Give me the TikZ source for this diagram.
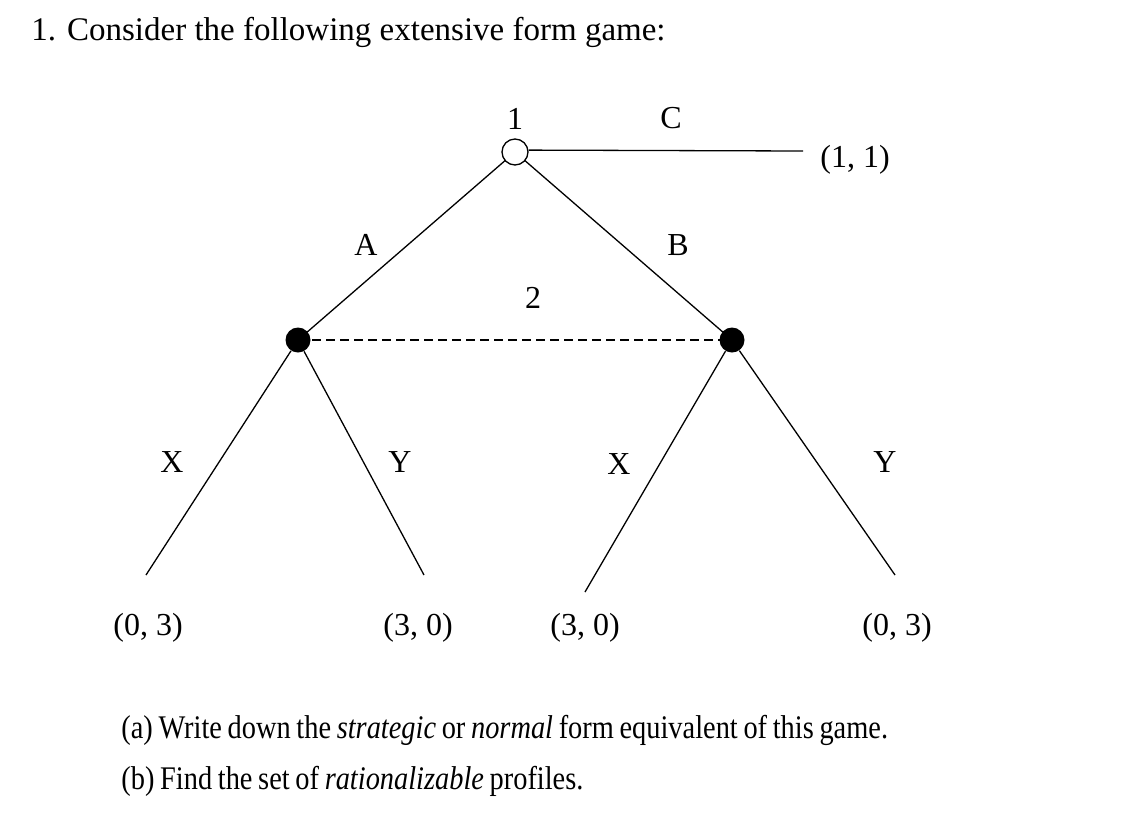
\documentclass[tikz,border=0pt]{standalone}
\usepackage{fontspec}
\setmainfont{Liberation Serif}
\newfontfamily\narrowserif[FakeStretch=0.86, WordSpace={0.8,0,0}]{Liberation Serif}
\begin{document}
\begin{tikzpicture}[x=0.5pt,y=-0.5pt,
  every node/.style={font=\fontsize{16}{19}\selectfont, inner sep=0pt},
  opennode/.style={circle, draw, fill=white, minimum size=13pt, line width=0.65pt},
  solidnode/.style={circle, fill=black, minimum size=12.5pt},
  branch/.style={line width=0.65pt},
  infoset/.style={line width=0.65pt, dash pattern=on 4.5pt off 2.5pt},
  txt/.style={anchor=base west, font=\fontsize{16.5}{20}\selectfont},
  qtxt/.style={anchor=base west, font=\narrowserif\fontsize{16.5}{20}\selectfont}]
\useasboundingbox (0,0) rectangle (1126,836);
\fill[white] (0,0) rectangle (1126,836);

\node[txt] (title) at (31,40) {1. Consider the following extensive form game:};

% nodes
\coordinate (cend) at (803,151);
\coordinate (l1) at (146,575);
\coordinate (l2) at (424,575);
\coordinate (l3) at (585,592);
\coordinate (l4) at (895,575);
\node[solidnode] (n2) at (298,340) {};
\node[solidnode] (n3) at (732,340) {};

\draw[infoset] (n2.center) -- (n3.center);
\draw[branch] (515,152) -- (n2.center);
\draw[branch] (515,152) -- (n3.center);
\node[opennode] (root) at (515,152) {};
\draw[branch] (root.8) -- (cend);
\draw[branch] (n2) -- (l1);
\draw[branch] (n2) -- (l2);
\draw[branch] (n3) -- (l3);
\draw[branch] (n3) -- (l4);

% labels
\node (p1) at (515,119) {1};
\node (lc) at (671,118) {C};
\node (pc) at (855,160) {(1, 1)};
\node (la) at (366,245) {A};
\node (lb) at (678,245) {B};
\node (p2) at (533,298) {2};
\node (lx1) at (172,462) {X};
\node (ly1) at (400,462) {Y};
\node (lx2) at (619,464) {X};
\node (ly2) at (885,462) {Y};
\node (o1) at (148,628) {(0, 3)};
\node (o2) at (418,628) {(3, 0)};
\node (o3) at (585,628) {(3, 0)};
\node (o4) at (897,628) {(0, 3)};

\node[qtxt] (qa) at (121,738) {(a) Write down the \textit{strategic} or \textit{normal} form equivalent of this game.};
\node[qtxt] (qb) at (121,789) {(b) Find the set of \textit{rationalizable} profiles.};
\end{tikzpicture}
\end{document}
